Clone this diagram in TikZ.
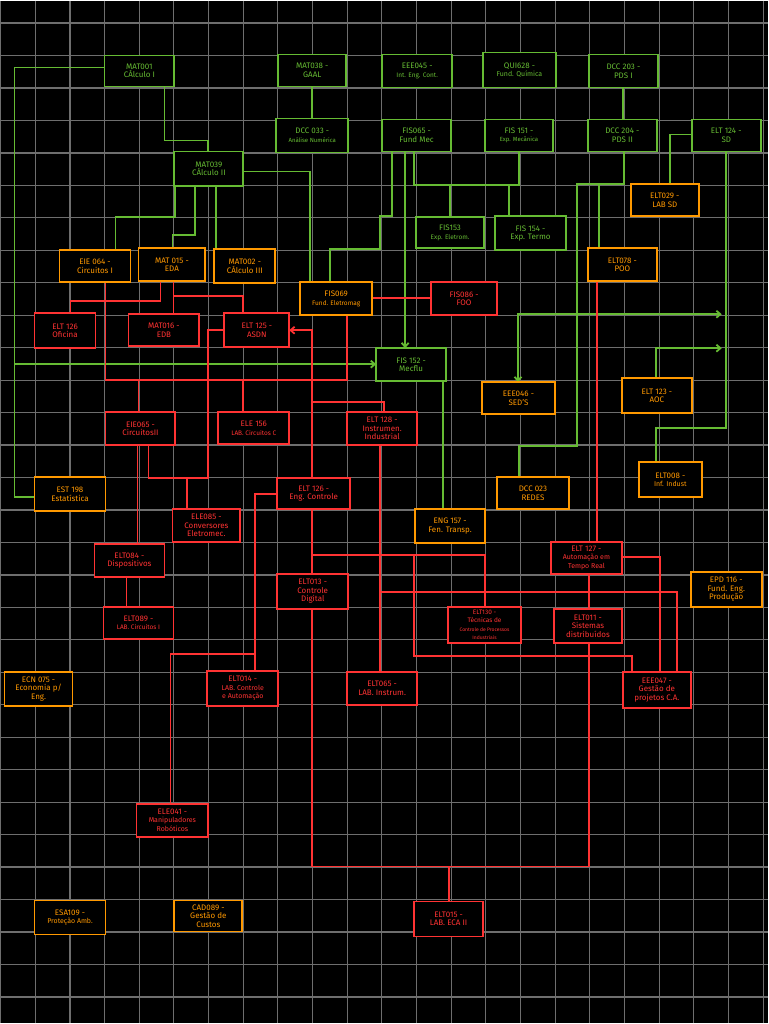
\documentclass[tikz,border=0pt]{standalone}
\usepackage{fontspec}
\setmainfont{Fira Sans}
\usetikzlibrary{arrows.meta,backgrounds}
\definecolor{gc}{RGB}{102,187,51}
\definecolor{oc}{RGB}{255,153,0}
\definecolor{rc}{RGB}{255,51,51}
\definecolor{gridc}{RGB}{110,110,110}
\pgfdeclarelayer{bgzero}
\pgfsetlayers{bgzero,background,main}
\newcommand\bx[7]{\node[box,draw=#6,text=#6,minimum width={#4-#2},minimum height={#5-#3}] (#1) at ({(#2+#4)/2},{(#3+#5)/2}) {#7};}
\begin{document}
\begin{tikzpicture}[x=1pt,y=-1pt,
  box/.style={rectangle,fill=black,line width=1.8pt,inner sep=1pt,outer sep=0pt,align=center,font=\fontsize{8}{8.5}\selectfont},
  g/.style={draw=gc,line width=1.8pt},
  r/.style={draw=rc,line width=1.8pt},
  >={Straight Barb[length=4pt,width=7pt]}]
\begin{pgfonlayer}{bgzero}
\fill[black] (0,0) rectangle (768,1024);
\foreach \i in {0,...,22} \draw[gridc,line width=1.2pt] ({34.7*\i},0) -- ({34.7*\i},1024);
\foreach \j in {0,...,30} \draw[gridc,line width=1.2pt] (0,{22.5+32.5*\j}) -- (768,{22.5+32.5*\j});
\end{pgfonlayer}
\useasboundingbox (0,0) rectangle (768,1024);
% green
\bx{mat001}{104}{55}{174}{86}{gc}{MAT001\\CÁlculo I}
\bx{mat038}{278}{54}{346}{86}{gc}{MAT038 -\\GAAL}
\bx{eee045}{382}{54}{452}{87}{gc}{EEE045 -\\{\fontsize{6.5}{7}\selectfont Int. Eng. Cont.}}
\bx{qui628}{483}{52}{556}{87}{gc}{QUI628 -\\{\fontsize{7}{7.5}\selectfont Fund. Química}}
\bx{dcc203}{589}{54}{658}{87}{gc}{DCC 203 -\\PDS I}
\bx{dcc033}{276}{118}{348}{152}{gc}{DCC 033 -\\{\fontsize{6}{7}\selectfont Análise Numérica}}
\bx{fis065}{382}{119}{451}{151}{gc}{FIS065 -\\Fund Mec}
\bx{fis151}{485}{119}{553}{151}{gc}{FIS 151 -\\{\fontsize{6}{7}\selectfont Exp. Mecânica}}
\bx{dcc204}{588}{119}{657}{151}{gc}{DCC 204 -\\PDS II}
\bx{elt124}{692}{119}{761}{151}{gc}{ELT 124 -\\SD}
\bx{mat039}{174}{151}{243}{186}{gc}{MAT039\\CÁlculo II}
\bx{fis153}{416}{217}{484}{248}{gc}{FIS153\\{\fontsize{6.5}{7}\selectfont Exp. Eletrom.}}
\bx{fis154}{495}{216}{566}{250}{gc}{FIS 154 -\\Exp. Termo}
\bx{fis152}{376}{348}{446}{381}{gc}{FIS 152 -\\Mecflu}
% orange
\bx{elt029}{631}{184}{699}{216}{oc}{ELT029 -\\LAB SD}
\bx{elt078}{588}{248}{657}{281}{oc}{ELT078 -\\POO}
\bx{eie064}{59}{250}{130}{282}{oc}{EIE 064 -\\Circuitos I}
\bx{mat015}{138}{248}{205}{281}{oc}{MAT 015 -\\EDA}
\bx{mat002}{214}{249}{275}{283}{oc}{MAT002 -\\CÁlculo III}
\bx{fis069}{300}{282}{372}{315}{oc}{FIS069\\{\fontsize{6.5}{7}\selectfont Fund. Eletromag}}
\bx{eee046}{482}{382}{555}{414}{oc}{EEE046 -\\SED'S}
\bx{elt123}{622}{378}{692}{413}{oc}{ELT 123 -\\AOC}
\bx{elt008}{639}{462}{702}{497}{oc}{ELT008 -\\{\fontsize{7}{7.5}\selectfont Inf. Indust}}
\bx{dcc023}{497}{477}{569}{509}{oc}{DCC 023\\REDES}
\bx{eng157}{415}{509}{485}{543}{oc}{ENG 157 -\\Fen. Transp.}
\bx{epd116}{691}{572}{762}{607}{oc}{EPD 116 -\\Fund. Eng.\\Produção}
\bx{est198}{34}{477}{105}{511}{oc}{EST 198\\Estatística}
\bx{ecn075}{4}{672}{72}{706}{oc}{ECN 075 -\\Economia p/\\Eng.}
\bx{esa109}{34}{901}{105}{935}{oc}{ESA109 -\\{\fontsize{7}{7.5}\selectfont Proteção Amb.}}
\bx{cad089}{174}{901}{242}{932}{oc}{CAD089 -\\Gestão de\\Custos}
% red
\bx{fis086}{431}{282}{497}{315}{rc}{FIS086 -\\FOO}
\bx{elt126a}{34}{313}{95}{348}{rc}{ELT 126\\Oficina}
\bx{mat016}{128}{314}{199}{346}{rc}{MAT016 -\\EDB}
\bx{elt125}{224}{313}{289}{347}{rc}{ELT 125 -\\ASDN}
\bx{eie065}{105}{412}{175}{445}{rc}{EIE065 -\\CircuitosII}
\bx{ele156}{218}{412}{289}{444}{rc}{ELE 156\\{\fontsize{6.5}{7}\selectfont LAB. Circuitos C}}
\bx{elt128}{347}{412}{417}{445}{rc}{ELT 128 -\\Instrumen.\\Industrial}
\bx{elt126b}{277}{478}{350}{509}{rc}{ELT 126 -\\Eng. Controle}
\bx{ele085}{172}{509}{240}{542}{rc}{ELE085 -\\Conversores\\Eletromec.}
\bx{elt084}{94}{544}{164}{577}{rc}{ELT084 -\\Dispositivos}
\bx{elt013}{277}{574}{348}{609}{rc}{ELT013 -\\Controle\\Digital}
\bx{elt089}{103}{607}{173}{639}{rc}{ELT089 -\\{\fontsize{6.5}{7}\selectfont LAB. Circuitos I}}
\bx{elt014}{207}{671}{278}{706}{rc}{ELT014 -\\{\fontsize{7}{7.5}\selectfont LAB. Controle}\\{\fontsize{7}{7.5}\selectfont e Automação}}
\bx{elt065}{347}{672}{417}{705}{rc}{ELT065 -\\LAB. Instrum.}
\bx{elt127}{551}{542}{622}{574}{rc}{ELT 127 -\\{\fontsize{7}{7.5}\selectfont Automação em}\\{\fontsize{7}{7.5}\selectfont Tempo Real}}
\bx{elt130}{448}{607}{521}{643}{rc}{{\fontsize{6.5}{7}\selectfont ELT130 -}\\{\fontsize{6.5}{7}\selectfont Técnicas de}\\{\fontsize{5}{5.5}\selectfont Controle de Processos}\\{\fontsize{5}{5.5}\selectfont Industriais}}
\bx{elt011}{554}{609}{622}{643}{rc}{ELT011 -\\Sistemas\\distribuídos}
\bx{eee047}{623}{672}{691}{708}{rc}{EEE047 -\\Gestão de\\projetos C.A.}
\bx{ele041}{136}{804}{208}{837}{rc}{ELE041 -\\{\fontsize{7}{7.5}\selectfont Manipuladores}\\{\fontsize{7}{7.5}\selectfont Robóticos}}
\bx{elt015}{414}{902}{483}{937}{rc}{ELT015 -\\LAB. ECA II}
\begin{scope}[on background layer]
% green connectors
\draw[g] (mat001.west |- 0,67) -- (14,67) -- (14,497) -- (est198.west |- 0,497);
\draw[g,->] (14,364) -- (fis152.west |- 0,364);
\draw[g] (mat001.south -| 164,0) -- (164,140) -- (208,140) -- (mat039.north -| 208,0);
\draw[g] (mat039.east |- 0,171) -- (310,171) -- (fis069.north -| 310,0);
\draw[g] (mat039.south -| 175,0) -- (175,217) -- (115,217) -- (eie064.north -| 115,0);
\draw[g] (mat039.south -| 195,0) -- (195,235) -- (172,235) -- (mat015.north -| 172,0);
\draw[g] (mat039.south -| 216,0) -- (mat002.north -| 216,0);
\draw[g] (mat038.south -| 312,0) -- (dcc033.north -| 312,0);
\draw[g] (dcc203.south -| 623,0) -- (dcc204.north -| 623,0);
\draw[g] (fis065.south -| 392,0) -- (392,216) -- (380,216) -- (380,249) -- (330,249) -- (fis069.north -| 330,0);
\draw[g,->] (fis065.south -| 405,0) -- (fis152.north -| 405,0);
\draw[g] (fis065.south -| 414,0) -- (414,185) -- (519,185) -- (fis151.south -| 519,0);
\draw[g] (450,185) -- (fis153.north -| 450,0);
\draw[g] (509,185) -- (fis154.north -| 509,0);
\draw[g] (dcc204.south -| 624,0) -- (624,184) -- (577,184) -- (577,446) -- (519,446) -- (dcc023.north -| 519,0);
\draw[g] (599,184) -- (elt078.north -| 599,0);
\draw[g] (elt124.west |- 0,134) -- (670,134) -- (elt029.north -| 670,0);
\draw[g] (elt124.south -| 726,0) -- (726,428) -- (656,428) -- (elt008.north -| 656,0);
\draw[g,<->] (eee046.north -| 518,0) -- (518,314) -- (722,314);
\draw[g,->] (elt123.north -| 656,0) -- (656,348) -- (722,348);
\draw[g] (fis152.south -| 443,0) -- (eng157.north -| 443,0);
% red connectors
\draw[r] (fis069.east |- 0,298) -- (fis086.west |- 0,298);
\draw[r] (eie064.south -| 105,0) -- (105,380) -- (347,380) -- (fis069.south -| 347,0);
\draw[r] (138,380) -- (eie065.north -| 138,0);
\draw[r] (243,380) -- (ele156.north -| 243,0);
\draw[r] (mat015.south -| 160,0) -- (160,301) -- (70,301) -- (elt126a.north -| 70,0);
\draw[r] (mat015.south -| 173,0) -- (mat016.north -| 173,0);
\draw[r] (173,296) -- (243,296) -- (elt125.north -| 243,0);
\draw[r] (elt125.west |- 0,330) -- (208,330) -- (208,478) -- (148,478) -- (eie065.south -| 148,0);
\draw[r] (187,478) -- (ele085.north -| 187,0);
\draw[r,->] (312,867) -- (312,330) -- (elt125.east |- 0,330);
\draw[r] (312,867) -- (589,867);
\draw[r] (449,867) -- (elt015.north -| 449,0);
\draw[r] (312,402) -- (384,402) -- (elt128.north -| 384,0);
\draw[r] (elt128.south -| 380,0) -- (elt065.north -| 380,0);
\draw[r] (312,555) -- (485,555) -- (elt130.north -| 485,0);
\draw[r] (414,555) -- (414,656) -- (632,656) -- (eee047.north -| 632,0);
\draw[r] (380,592) -- (677,592) -- (eee047.north -| 677,0);
\draw[r] (elt127.east |- 0,557) -- (660,557) -- (eee047.north -| 660,0);
\draw[r] (elt078.south -| 597,0) -- (elt127.north -| 597,0);
\draw[r] (elt127.south -| 589,0) -- (589,867);
\draw[r] (elt126b.west |- 0,494) -- (255,494) -- (elt014.north -| 255,0);
\draw[r] (255,654) -- (170,654) -- (ele041.north -| 170,0);
\draw[r] (eie065.south -| 137,0) -- (elt084.north -| 137,0);
\draw[r] (elt084.south -| 126,0) -- (elt089.north -| 126,0);
\end{scope}
\end{tikzpicture}
\end{document}
